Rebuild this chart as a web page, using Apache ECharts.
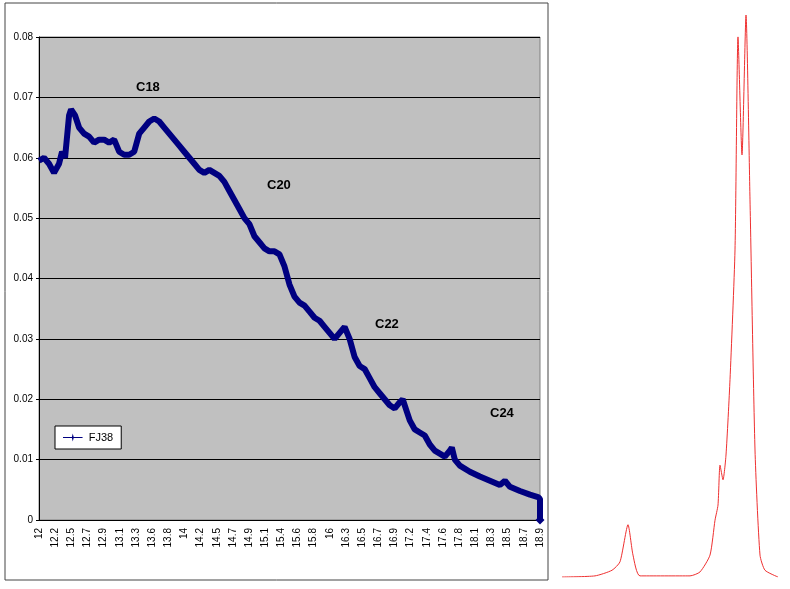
<!DOCTYPE html>
<html>
<head>
<meta charset="utf-8">
<script src="https://cdn.jsdelivr.net/npm/echarts@6/dist/echarts.min.js"></script>
<style>html,body{margin:0;padding:0;background:#fff}#chart{width:790px;height:589px}</style>
</head>
<body>
<div id="chart"></div>
<script>
// retention time tick labels (Excel category labels)
const timeLabels = ['12','12.2','12.5','12.7','12.9','13.1','13.3','13.6','13.8','14','14.2','14.5',
  '14.7','14.9','15.1','15.4','15.6','15.8','16','16.3','16.5','16.7','16.9','17.2','17.4','17.6',
  '17.8','18.1','18.3','18.5','18.7','18.9'];

// FJ38 trace: scan number (0..500) and signal
const fjScan = [0,5,10,15,20,23,26,30,32,36,40,45,50,55,60,65,70,75,80,85,90,95,100,105,110,115,120,
  125,130,135,140,145,150,155,160,165,170,175,180,185,190,195,200,205,210,215,220,225,230,235,240,
  245,250,255,260,265,270,275,280,285,290,295,300,305,310,315,320,325,330,335,340,345,350,355,360,
  363,367,370,375,380,385,390,395,400,405,410,412,415,420,430,440,450,460,465,470,480,490,498,500,500];
const fjSignal = [0.0595,0.060,0.059,0.0575,0.059,0.061,0.060,0.067,0.068,0.067,0.065,0.064,0.0635,0.0625,
  0.063,0.063,0.0625,0.063,0.061,0.0605,0.0605,0.061,0.064,0.065,0.066,0.0665,0.066,0.065,0.064,0.063,
  0.062,0.061,0.060,0.059,0.058,0.0575,0.058,0.0575,0.057,0.056,0.0545,0.053,0.0515,0.050,0.049,0.047,
  0.046,0.045,0.0445,0.0445,0.044,0.042,0.039,0.037,0.036,0.0355,0.0345,0.0335,0.033,0.032,0.031,0.030,
  0.031,0.032,0.030,0.027,0.0255,0.025,0.0235,0.022,0.021,0.020,0.019,0.0185,0.0195,0.020,0.018,0.0165,
  0.015,0.0145,0.014,0.0125,0.0115,0.011,0.0105,0.0115,0.012,0.010,0.009,0.008,0.0072,0.0065,0.0058,
  0.0065,0.0055,0.0048,0.0042,0.0038,0.0035,0];

// red chromatogram (arbitrary units)
const chromTime = [0,33,50,58,66,71,78,128,138,148,153,156,158,161,164,168,173,176,180,184,188,193,198,203,216];
const chromInt = [0,0.2,1.2,2.7,9.3,3.9,0.2,0.2,0.9,3.9,10.1,12.8,19.9,17.3,21.7,35.1,58.2,96.1,75.1,100,67.1,22.6,3.9,1.2,0];

const fjData = fjScan.map((s, i) => {
  const last = i === fjScan.length - 1;
  return last ? { value: [s, fjSignal[i]], symbolSize: 9 } : [s, fjSignal[i]];
});
const chromData = chromTime.map((t, i) => [t, chromInt[i]]);

const chart = echarts.init(document.getElementById('chart'));
const labelFont = { fontFamily: 'Liberation Sans Narrow, Liberation Sans, Arial', fontSize: 10, color: '#000' };
const tagStyle = { fontFamily: 'Liberation Sans, Arial', fontSize: 13, fontWeight: 'bold', fill: '#000' };

chart.setOption({
  animation: false,
  backgroundColor: '#fff',
  graphic: [
    { type: 'rect', shape: { x: 5, y: 3, width: 543, height: 577 }, style: { fill: 'none', stroke: '#444', lineWidth: 1 }, z: -1 },
    { type: 'text', left: 136, top: 81, style: Object.assign({ text: 'C18' }, tagStyle) },
    { type: 'text', left: 267, top: 179, style: Object.assign({ text: 'C20' }, tagStyle) },
    { type: 'text', left: 375, top: 318, style: Object.assign({ text: 'C22' }, tagStyle) },
    { type: 'text', left: 490, top: 407, style: Object.assign({ text: 'C24' }, tagStyle) }
  ],
  legend: {
    data: ['FJ38'], left: 55, top: 426, orient: 'vertical',
    backgroundColor: '#fff', borderColor: '#000', borderWidth: 1, padding: [6, 8],
    itemWidth: 22, itemHeight: 8, icon: 'path://M0,4L10,4L11,0L12,4L22,4L22,5L12,5L11,9L10,5L0,5Z',
    textStyle: { fontFamily: 'Liberation Sans, Arial', fontSize: 11, color: '#000' }
  },
  grid: [
    { left: 39, top: 37, width: 501, height: 483, show: true, backgroundColor: '#c0c0c0', borderColor: '#808080', borderWidth: 1 },
    { left: 562, top: 15, width: 216, height: 562 }
  ],
  xAxis: [
    { type: 'value', gridIndex: 0, min: 0, max: 500, show: false },
    { type: 'category', gridIndex: 0, position: 'bottom', data: timeLabels, boundaryGap: false,
      axisLine: { lineStyle: { color: '#000' } }, axisTick: { show: false }, splitLine: { show: false },
      axisLabel: Object.assign({ rotate: 90, interval: 0, margin: 8 }, labelFont) },
    { type: 'value', gridIndex: 1, min: 0, max: 216, show: false }
  ],
  yAxis: [
    { type: 'value', gridIndex: 0, min: 0, max: 0.08, interval: 0.01,
      axisLine: { show: true, lineStyle: { color: '#000' } }, axisTick: { show: true, length: 3, lineStyle: { color: '#000' } },
      splitLine: { lineStyle: { color: '#000', width: 1 } },
      axisLabel: Object.assign({ margin: 6, formatter: v => v === 0 ? '0' : v.toFixed(2) }, labelFont) },
    { type: 'value', gridIndex: 1, min: 0, max: 100, show: false }
  ],
  series: [
    { name: 'FJ38', type: 'line', xAxisIndex: 0, yAxisIndex: 0, data: fjData,
      symbol: 'diamond', symbolSize: 0, showSymbol: true, showAllSymbol: true, clip: false,
      lineStyle: { color: '#000080', width: 6 },
      itemStyle: { color: '#000080' }, color: '#000080', z: 3 },
    { name: 'chrom', type: 'line', xAxisIndex: 2, yAxisIndex: 1, data: chromData,
      symbol: 'none', smooth: 0.2, lineStyle: { color: '#ee3030', width: 1 } }
  ]
});
</script>
</body>
</html>
